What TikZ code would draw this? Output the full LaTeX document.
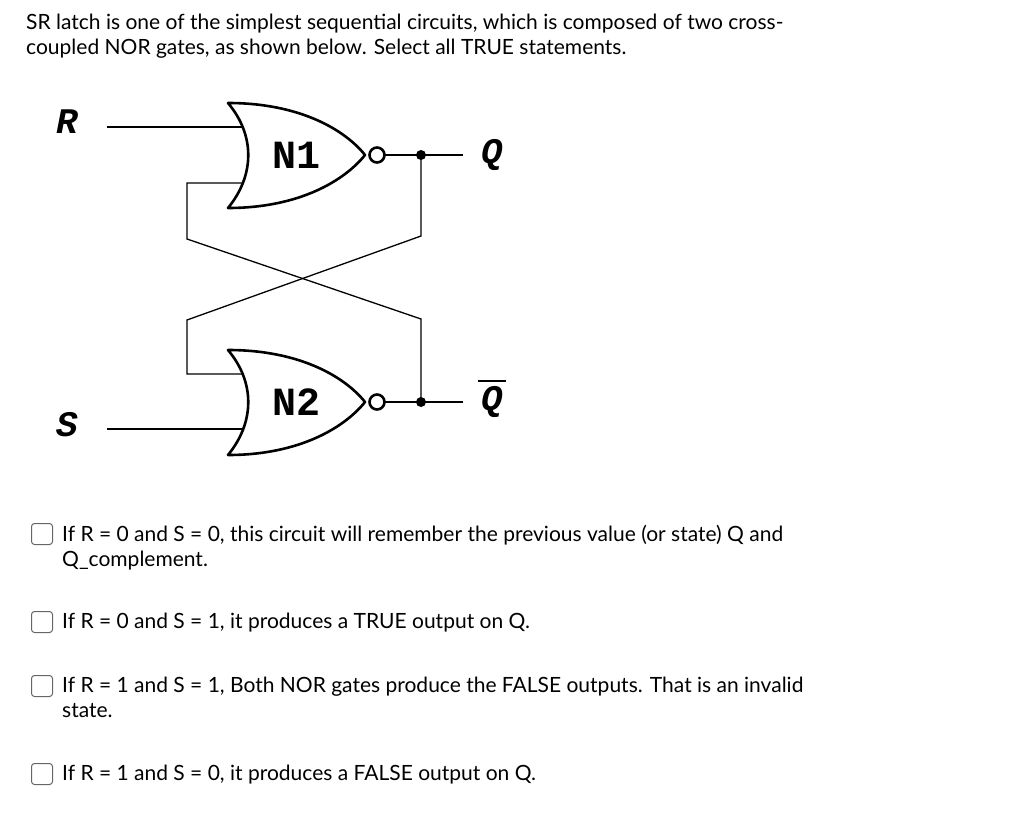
\documentclass[tikz,border=0pt]{standalone}
\usepackage{fontspec}
\setmainfont{Lato}
\newfontfamily\mono{Liberation Mono}
\begin{document}
\begin{tikzpicture}[x=1pt,y=-1pt,
  wire/.style={line width=1.3},
  gate/.style={line width=2.6,line join=round},
  lbl/.style={font=\mono\bfseries\itshape\fontsize{36}{36}\selectfont,inner sep=0},
  gl/.style={font=\mono\bfseries\fontsize{40}{40}\selectfont,inner sep=0},
  txt/.style={anchor=north west,inner sep=0,align=left,font=\fontsize{21}{25}\selectfont},
  box/.style={draw=black!60,line width=1,rounded corners=3,minimum size=21,inner sep=0}]
\useasboundingbox (0,0) rectangle (1024,816);
\node[txt] (t) at (26,14) {SR latch is one of the simplest sequential circuits, which is composed of two cross-\\coupled NOR gates, as shown below. Select all TRUE statements.};
% gates
\foreach \n/\y in {1/155,2/402}{
  \draw[gate,fill=white] (228,\y-52) .. controls (300,\y-52) and (345,\y-25) .. (365,\y)
     .. controls (345,\y+25) and (300,\y+53) .. (228,\y+53)
     .. controls (255,\y+20) and (255,\y-20) .. (228,\y-52) -- cycle;
  \draw[gate,fill=white] (377,\y) circle (7.5);
}
\node[gl] (n1) at (296,155) {N1};
\node[gl] (n2) at (296,402) {N2};
\node[lbl] (R) at (67,122) {R};
\node[lbl] (S) at (67,425) {S};
\node[lbl] (Q) at (492,155) {Q};
\node[lbl] (Qb) at (492,402) {Q};
\draw[wire] (478,381) -- (506,381);
\coordinate (d1) at (421,155);
\coordinate (d2) at (421,402);
\fill (d1) circle (5); \fill (d2) circle (5);
\draw[wire] (107,127) -- (242,127);
\draw[wire] (107,429) -- (242,429);
\draw[wire] (385,155) -- (463,155);
\draw[wire] (385,402) -- (463,402);
\draw[wire] (242,183) -- (187,183) -- (187,239) -- (421,319) -- (d2);
\draw[wire] (242,374) -- (187,374) -- (187,320) -- (421,236) -- (d1);
% options
\foreach \y/\t in {534/{If R = 0 and S = 0, this circuit will remember the previous value (or state) Q and\\Q\_complement.},
  622/{If R = 0 and S = 1, it produces a TRUE output on Q.},
  686/{If R = 1 and S = 1, Both NOR gates produce the FALSE outputs. That is an invalid\\state.},
  774/{If R = 1 and S = 0, it produces a FALSE output on Q.}}{
  \node[box] at (42,\y) {};
  \node[txt] at (62,\y-9) {\t};
}
\end{tikzpicture}
\end{document}
